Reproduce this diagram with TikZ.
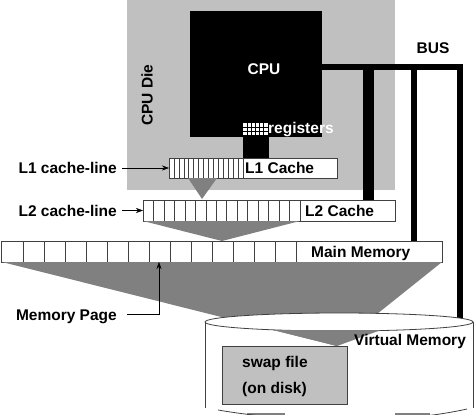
\documentclass[tikz,border=0pt]{standalone}
\usepackage{fontspec}
\setmainfont{Liberation Sans}
\usepackage{xcolor}
\usetikzlibrary{positioning}
\usetikzlibrary{arrows.meta}
\tikzset{>={Stealth[length=7pt,width=5pt]}}
\definecolor{diegray}{HTML}{C0C0C0}
\definecolor{fungray}{HTML}{808080}
\definecolor{edgegray}{HTML}{404040}
\tikzset{
  lbl/.style={font=\bfseries\fontsize{15.5}{18}\selectfont, inner sep=0pt, text height=11pt, text depth=0pt},
  membox/.style={draw=edgegray, line width=0.8pt, fill=white, inner sep=0pt, outer sep=0pt},
  cellline/.style={edgegray, line width=0.6pt},
  funnel/.style={fill=fungray},
  buswire/.style={line width=#1, line join=miter},
}

\begin{document}
\begin{tikzpicture}[x=1pt, y=-1pt]
	\useasboundingbox (0,0) rectangle (474,415);
	% CPU die
	\fill [diegray] (127,0) rectangle (395,190);
	\node [lbl, rotate=90] (die) at (147,95) {CPU Die};
	\node [fill=black, inner sep=0pt, minimum width=132pt, minimum height=126pt] (cpu) at (256,74) {};
	\node [lbl, text=white] (cputxt) at (264,68.5) {CPU};
	\fill [black] (243,137) rectangle (269,158);
	% registers
	\fill [white] (243,123) rectangle (268,135);
	\foreach \i in {1,...,5}
		\draw [black, line width=0.9pt] ({243+\i*25/6},123) -- ++(0,12);
	\foreach \j in {127,131}
		\draw [black, line width=0.9pt] (243,\j) -- (268,\j);
	\node [lbl, text=white, anchor=west] (regs) at (268,127.5) {registers};
	% bus
	\coordinate (busr) at (460,67);
	\coordinate (drop1) at (368.5,67);
	\coordinate (drop2) at (414,67);
	\coordinate (vmtop) at (460,322);
	\node [lbl] (bus) at (433,48) {BUS};
	\draw [buswire=6pt] (cpu.east |- busr) -- (busr) -- (vmtop);
	% L1 cache
	\node [membox, minimum width=168pt, minimum height=20pt] (l1) at (253,168) {};
	\foreach \i in {1,...,15}
		\draw [cellline] ({169+\i*74/15},158) -- ++(0,20);
	\node [lbl, anchor=west] (l1txt) at (245,168) {L1 Cache};
	\node [lbl, left=52pt of l1] (l1lbl) {L1 cache-line};
	\draw [->] ([xshift=5pt]l1lbl.east) -- (l1lbl.east -| l1.west);
	\fill [funnel] (188,178) -- (217,178) -- (202,199) -- cycle;
	% L2 cache
	\node [membox, minimum width=252pt, minimum height=21pt] (l2) at (269,210.5) {};
	\draw [buswire=11pt] (drop1) -- (drop1 |- l2.north);
	\foreach \i in {1,...,15}
		\draw [cellline] ({143+\i*157/15},200) -- ++(0,21);
	\node [lbl, anchor=west] (l2txt) at (305,210.5) {L2 Cache};
	\node [lbl, left=26pt of l2] (l2lbl) {L2 cache-line};
	\draw [->] ([xshift=5pt]l2lbl.east) -- (l2lbl.east -| l2.west);
	\fill [funnel] (143,221) -- (300,221) -- (222,241) -- cycle;
	% main memory
	\node [membox, minimum width=441pt, minimum height=21pt] (mm) at (221.5,251.5) {};
	\draw [buswire=6pt] (drop2) -- (drop2 |- mm.north);
	\foreach \i in {1,...,14}
		\draw [cellline] ({2+\i*21},241) -- ++(0,21);
	\node [lbl, anchor=west] (mmtxt) at (311,251.5) {Main Memory};
	\fill [funnel] (2,262) -- (442,262) -- (337,346) -- cycle;
	% memory page
	\coordinate (pg) at (159,262);
	\node [lbl, anchor=east] (pglbl) at (117,314.5) {Memory Page};
	\draw [->] ([xshift=10pt]pglbl.east) -| (pg);
	% virtual memory (disk)
	\draw [edgegray, line width=0.8pt] (205,322) -- (205,408);
	\draw [edgegray, line width=0.8pt] (473,322) -- (473,408);
	\fill [fungray] (247,413) rectangle (285,415);
	\fill [fungray] (395,413) rectangle (430,415);
	\draw [edgegray, line width=0.8pt] (218,410) .. controls (300,424) and (400,424) .. (467,409);
	\filldraw [fill=white, draw=edgegray, line width=0.8pt] (339,322) ellipse [x radius=134pt, y radius=9pt];
	\fill [funnel] (273,330) -- (381,330) -- (337,346) -- cycle;
	\node [lbl, anchor=west] (vmtxt) at (354,340) {Virtual Memory};
	\filldraw [fill=diegray, draw=edgegray, line width=0.8pt] (222,346) rectangle (347,404);
	\node [lbl, anchor=west] (swap1) at (242,362) {swap file};
	\node [lbl, anchor=west] (swap2) at (242,388) {(on disk)};
\end{tikzpicture}
\end{document}
